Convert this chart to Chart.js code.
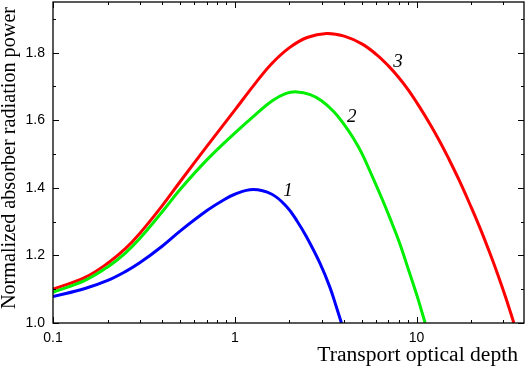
<!DOCTYPE html>
<html>
<head>
<meta charset="utf-8">
<script src="https://cdn.jsdelivr.net/npm/chart.js@4/dist/chart.umd.min.js"></script>
<style>
  html, body { margin: 0; padding: 0; background: #fff; }
  #wrap { width: 526px; height: 368px; }
</style>
</head>
<body>
<div id="wrap"><canvas id="chart"></canvas></div>
<script>
// ===== DATA =====
const blueX  = [0.1, 0.15, 0.2, 0.25, 0.3, 0.4, 0.5, 0.7, 0.85, 1.0, 1.26, 1.6, 1.93, 2.2, 2.48, 2.94, 3.33, 3.6, 3.86];
const blueY  = [1.078, 1.102, 1.126, 1.152, 1.178, 1.228, 1.272, 1.332, 1.361, 1.381, 1.395, 1.381, 1.344, 1.302, 1.255, 1.177, 1.107, 1.052, 1.0];
const greenX = [0.1, 0.15, 0.2, 0.25, 0.3, 0.4, 0.5, 0.7, 1.0, 1.3, 1.6, 1.9, 2.2, 2.6, 3.0, 3.5, 4.0, 4.5, 5.0, 5.77, 6.5, 7.13, 8.0, 9.0, 10.0, 10.4, 11.15];
const greenY = [1.091, 1.126, 1.166, 1.207, 1.250, 1.330, 1.395, 1.482, 1.562, 1.617, 1.657, 1.679, 1.684, 1.676, 1.658, 1.626, 1.587, 1.546, 1.502, 1.428, 1.364, 1.311, 1.242, 1.160, 1.085, 1.055, 1.0];
const redX   = [0.1, 0.15, 0.2, 0.25, 0.3, 0.4, 0.5, 0.7, 1.0, 1.3, 1.6, 2.0, 2.5, 3.2, 4.0, 5.0, 6.0, 7.0, 8.0, 9.0, 10.4, 12, 13.4, 15, 17.1, 20, 22.5, 25.3, 28, 31, 34.3];
const redY   = [1.100, 1.135, 1.177, 1.220, 1.265, 1.348, 1.418, 1.522, 1.630, 1.710, 1.768, 1.815, 1.845, 1.857, 1.849, 1.826, 1.795, 1.761, 1.726, 1.690, 1.639, 1.584, 1.538, 1.487, 1.424, 1.342, 1.277, 1.207, 1.143, 1.074, 1.0];

const curveLabels = ['1', '2', '3'];
const labelX = [1.96, 4.4, 7.9];
const labelY = [1.39, 1.61, 1.772];

const xTicks = [0.1, 1, 10];
const xMinor = [0.2, 0.3, 0.4, 0.5, 0.6, 0.7, 0.8, 0.9, 2, 3, 4, 5, 6, 7, 8, 9, 20, 30];
const yTicks = [1.0, 1.2, 1.4, 1.6, 1.8];
const yMinor = [1.1, 1.3, 1.5, 1.7, 1.9];

const toPoints = (xs, ys) => xs.map((x, i) => ({ x, y: ys[i] }));

// fit a serif title to a given pixel length
function fitFont(ctx, text, width) {
  ctx.font = '20px "Liberation Serif"';
  const size = 20 * width / ctx.measureText(text).width;
  return size.toFixed(1) + 'px "Liberation Serif"';
}

// ===== FRAME, INWARD TICKS, TITLES =====
const frame = {
  id: 'frame',
  afterDraw(chart) {
    const { ctx, chartArea: a, scales: { x, y } } = chart;
    ctx.save();
    ctx.strokeStyle = '#000';
    ctx.lineWidth = 1.3;
    ctx.strokeRect(a.left, a.top, a.right - a.left, a.bottom - a.top);
    const tickX = (v, len) => {
      const px = Math.round(x.getPixelForValue(v)) + 0.5;
      ctx.beginPath();
      ctx.moveTo(px, a.bottom); ctx.lineTo(px, a.bottom - len);
      ctx.moveTo(px, a.top); ctx.lineTo(px, a.top + len);
      ctx.stroke();
    };
    const tickY = (v, len) => {
      const py = Math.round(y.getPixelForValue(v)) + 0.5;
      ctx.beginPath();
      ctx.moveTo(a.left, py); ctx.lineTo(a.left + len, py);
      ctx.moveTo(a.right, py); ctx.lineTo(a.right - len, py);
      ctx.stroke();
    };
    ctx.lineWidth = 1;
    xTicks.forEach(v => tickX(v, 6));
    xMinor.forEach(v => tickX(v, 3));
    yTicks.forEach(v => tickY(v, 6));
    yMinor.forEach(v => tickY(v, 3));

    // curve numbers
    ctx.fillStyle = '#000';
    ctx.font = 'italic 19px "Liberation Serif"';
    ctx.textAlign = 'center';
    ctx.textBaseline = 'middle';
    curveLabels.forEach((t, i) => {
      ctx.fillText(t, x.getPixelForValue(labelX[i]), y.getPixelForValue(labelY[i]));
    });

    // axis titles
    const xt = 'Transport optical depth';
    ctx.font = fitFont(ctx, xt, 201);
    ctx.textAlign = 'right';
    ctx.fillText(xt, 518, 355);
    const yt = 'Normalized absorber radiation power';
    ctx.font = fitFont(ctx, yt, 303);
    ctx.translate(10, 158);
    ctx.rotate(-Math.PI / 2);
    ctx.textAlign = 'center';
    ctx.fillText(yt, 0, 0);
    ctx.restore();
  }
};

const line = (data, color) => ({
  data, borderColor: color, borderWidth: 3, pointRadius: 0,
  fill: false, tension: 0.4
});

new Chart(document.getElementById('chart'), {
  type: 'line',
  data: {
    datasets: [
      line(toPoints(blueX, blueY), '#0000ff'),
      line(toPoints(greenX, greenY), '#00ee00'),
      line(toPoints(redX, redY), '#ff0000')
    ]
  },
  options: {
    responsive: true,
    maintainAspectRatio: false,
    animation: false,
    layout: { padding: { top: 2, right: 2, left: 0, bottom: 0 } },
    plugins: { legend: { display: false }, tooltip: { enabled: false } },
    scales: {
      x: {
        type: 'logarithmic', min: 0.1, max: 39,
        grid: { display: false, drawTicks: false },
        border: { display: false },
        afterBuildTicks: s => { s.ticks = xTicks.map(v => ({ value: v })); },
        afterFit: s => { s.height = 45; s.paddingLeft = 0; s.paddingRight = 0; },
        ticks: {
          padding: 7, color: '#000', maxRotation: 0, autoSkip: false,
          font: { family: '"Liberation Sans"', size: 14 },
          callback: v => String(v)
        }
      },
      y: {
        type: 'linear', min: 1.0, max: 1.95,
        grid: { display: false, drawTicks: false },
        border: { display: false },
        afterBuildTicks: s => { s.ticks = yTicks.map(v => ({ value: v })); },
        afterFit: s => { s.width = 53; s.paddingTop = 0; s.paddingBottom = 0; },
        ticks: {
          padding: 8, color: '#000',
          font: { family: '"Liberation Sans"', size: 14 },
          callback: v => Number(v).toFixed(1)
        }
      }
    }
  },
  plugins: [frame]
});
</script>
</body>
</html>
